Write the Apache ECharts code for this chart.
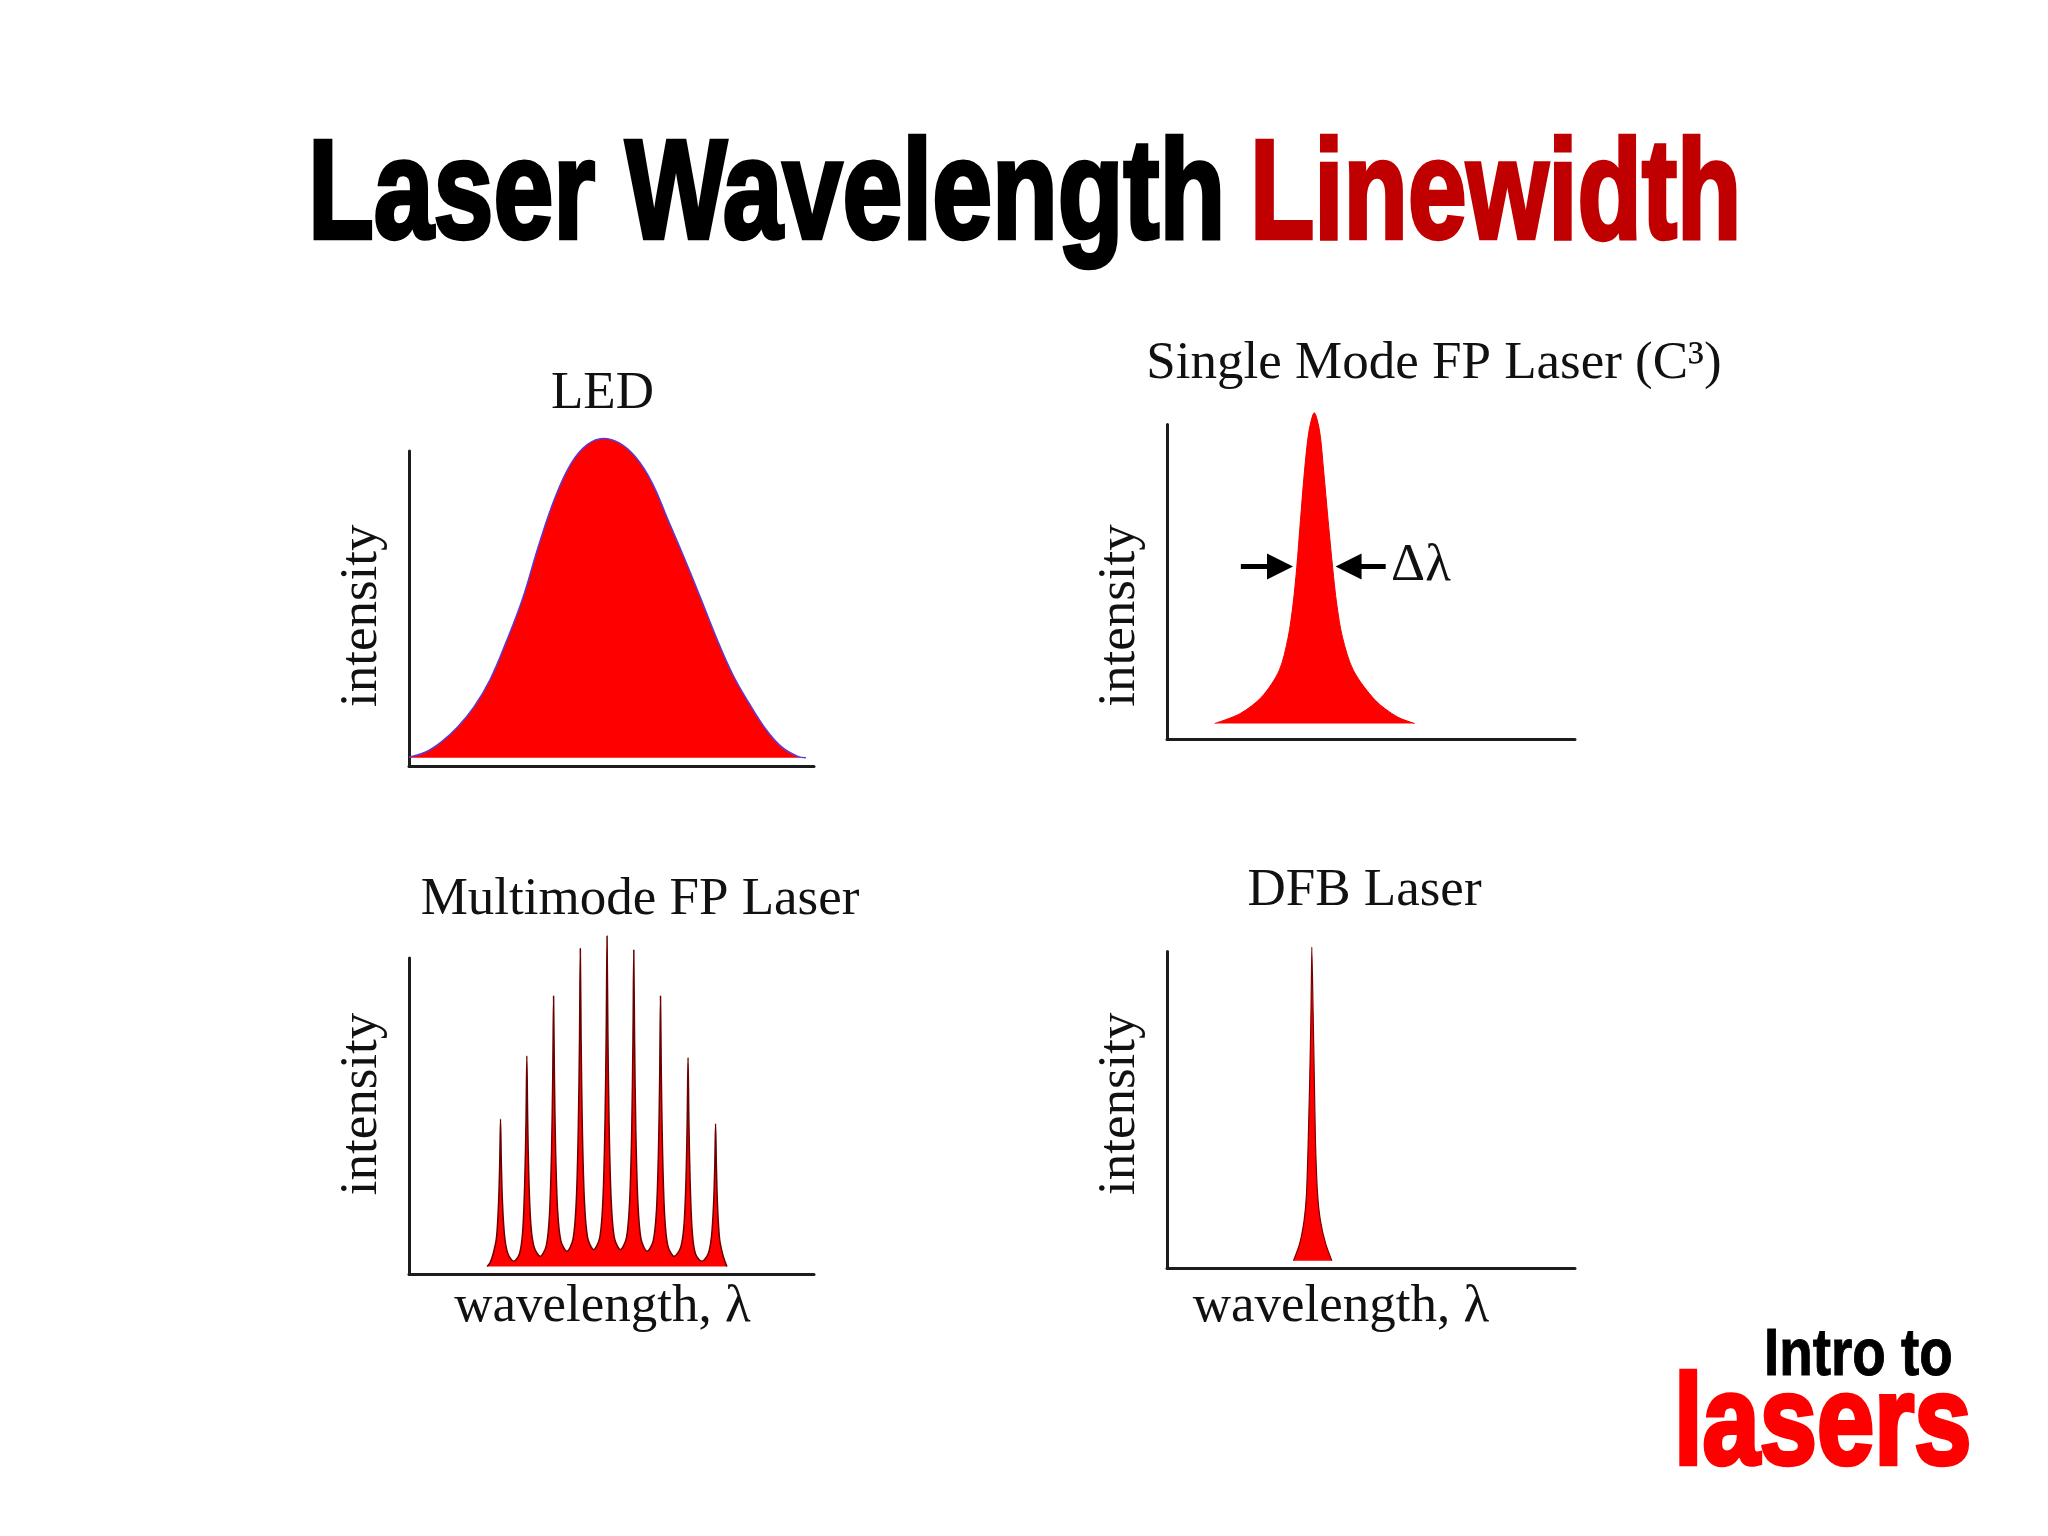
<!DOCTYPE html>
<html>
<head>
<meta charset="utf-8">
<script src="https://cdn.jsdelivr.net/npm/echarts@6/dist/echarts.min.js"></script>
<style>
html,body{margin:0;padding:0;background:#fff;}
#chart{width:2048px;height:1536px;}
</style>
</head>
<body>
<div id="chart"></div>
<script>
// ---------- data (axis units 0..100) ----------
const ledX = [0, 4, 8, 12, 16, 20, 24, 28, 32, 36, 40, 44, 48, 52, 56, 60, 64, 68, 72, 76, 80, 84, 88, 92, 96, 98];
const ledY = [3.0, 4.5, 7.8, 12.5, 18.8, 27.5, 39.5, 53, 70, 85, 96, 102, 104, 102.5, 98, 90, 78, 66, 53.4, 40.5, 29, 20, 12, 6.2, 3.2, 2.8];
const ledBase = 2.8;

const smX = [11.7, 17.9, 23.2, 27.5, 29.7, 30.9, 31.8, 32.7, 33.7, 34.8, 36.1, 37.4, 38.4, 39.5, 40.6, 41.6, 43.0, 45.7, 51.1, 56.4, 60.7];
const smY = [5.1, 8.2, 13.5, 21.9, 32.5, 43.0, 54.6, 69.4, 85.2, 97.9, 103.7, 97.9, 85.2, 69.4, 54.6, 43.0, 32.5, 21.9, 12.4, 7.2, 5.1];
const smBase = 5.1;

const mmX = [19.3, 20.0, 20.8, 21.6, 22.1, 22.4, 22.6, 22.8, 23.1, 23.6, 24.4, 25.85,
  27.3, 28.1, 28.6, 28.9, 29.1, 29.3, 29.6, 30.1, 30.9, 32.4,
  33.9, 34.7, 35.2, 35.5, 35.7, 35.9, 36.2, 36.7, 37.5, 39.0,
  40.5, 41.3, 41.8, 42.1, 42.3, 42.5, 42.8, 43.3, 44.1, 45.6,
  47.1, 47.9, 48.4, 48.7, 48.9, 49.1, 49.4, 49.9, 50.7, 52.2,
  53.7, 54.5, 55.0, 55.3, 55.5, 55.7, 56.0, 56.5, 57.3, 58.8,
  60.3, 61.1, 61.6, 61.9, 62.1, 62.3, 62.6, 63.1, 63.9, 65.5,
  67.1, 67.9, 68.4, 68.7, 68.9, 69.1, 69.4, 69.9, 70.7, 72.3,
  73.9, 74.7, 75.2, 75.5, 75.7, 75.9, 76.2, 76.7, 77.5, 78.0, 78.5];
const mmY = [2.4, 3.5, 6.5, 11.5, 22, 35, 49, 35, 22, 12, 6.5, 4.0,
  6.5, 14, 30, 49, 69, 49, 30, 15.5, 8.5, 5.6,
  9, 19, 39, 63, 88, 63, 39, 20, 10.5, 7.2,
  11, 23, 46, 74, 103, 74, 46, 23.5, 11.5, 7.7,
  11.5, 24, 48, 77, 107, 77, 48, 24, 11.5, 7.7,
  11.5, 23.5, 46, 74, 102.5, 74, 46, 23, 11, 7.2,
  10.5, 20, 39, 63, 88, 63, 39, 19, 9, 5.6,
  8.5, 15.5, 30, 49, 68.5, 49, 30, 14, 6.5, 4.0,
  6.5, 12, 22, 34, 47.5, 34, 21, 11, 6, 4, 2.4];
const mmBase = 2.4;

const dfbX = [31.0, 32.5, 33.6, 34.2, 34.6, 35.0, 35.3, 35.5, 35.8, 36.1, 36.4, 36.9, 37.6, 38.9, 40.4];
const dfbY = [2.3, 7.6, 15.0, 23.5, 39.4, 60.6, 81.8, 101.4, 81.8, 60.6, 39.4, 23.5, 15.0, 7.6, 2.3];
const dfbBase = 2.3;

// arrow line ends are at the centre of the arrowhead (the tip lies half a head further on)
const arrowLeft = [[18.1, 54.9], [27.7, 54.9]];
const arrowRight = [[53.6, 54.9], [44.5, 54.9]];
const deltaLabelAt = [54.8, 55.0];
const deltaLabel = 'Δλ';

const panelTitles = ['LED', 'Single Mode FP Laser (C³)', 'Multimode FP Laser', 'DFB Laser'];
const yAxisName = 'intensity';
const xAxisName = 'wavelength, λ';
const mainTitleBlack = 'Laser Wavelength';
const mainTitleRed = 'Linewidth';
const logoTop = 'Intro to';
const logoBottom = 'lasers';

// ---------- layout ----------
const grids = [
  {left: 409, top: 451, width: 405, height: 315.5},
  {left: 1167, top: 424.5, width: 408, height: 315},
  {left: 409, top: 958, width: 405, height: 316},
  {left: 1167, top: 951.5, width: 408, height: 316.5}
];
const serif = '"Liberation Serif", "Times New Roman", serif';
const sans = '"Liberation Sans", Arial, sans-serif';
const axisLine = {show: true, onZero: false, lineStyle: {color: '#1c1c1c', width: 3}};

const yPads = [[0, 14, 0, 0], [0, 67, 0, 0], [0, 0, 0, 24], [0, 0, 0, 12]];
const xPads = [null, null, [0, 18, 0, 0], [0, 60, 0, 0]];
const xGaps = [7, 7, 7, 13];

const xAxes = grids.map((g, i) => ({
  type: 'value', gridIndex: i, min: 0, max: 100,
  axisLine: axisLine, axisTick: {show: false}, axisLabel: {show: false}, splitLine: {show: false},
  name: i >= 2 ? xAxisName : '', nameLocation: 'middle', nameGap: xGaps[i],
  nameTextStyle: {fontFamily: serif, fontSize: 53, color: '#111', padding: xPads[i] || 0}
}));
const yAxes = grids.map((g, i) => ({
  type: 'value', gridIndex: i, min: 0, max: 100,
  axisLine: axisLine, axisTick: {show: false}, axisLabel: {show: false}, splitLine: {show: false},
  name: yAxisName, nameLocation: 'middle', nameRotate: 90, nameGap: 20,
  nameTextStyle: {fontFamily: serif, fontSize: 53, color: '#111', padding: yPads[i]}
}));

function pairs(xs, ys) { return xs.map((x, k) => [x, ys[k]]); }

const series = [
  {
    type: 'line', xAxisIndex: 0, yAxisIndex: 0, data: pairs(ledX, ledY),
    smooth: 0.4, showSymbol: false, clip: false,
    lineStyle: {color: '#5a3bd6', width: 1.5},
    areaStyle: {color: '#ff0000', opacity: 1, origin: ledBase}
  },
  {
    type: 'line', xAxisIndex: 1, yAxisIndex: 1, data: pairs(smX, smY),
    smooth: 0.3, showSymbol: false, clip: false,
    lineStyle: {color: '#ee0000', width: 1},
    areaStyle: {color: '#ff0000', opacity: 1, origin: smBase},
    markLine: {
      silent: true, animation: false,
      symbol: ['none', 'triangle'], symbolSize: 26,
      label: {show: false},
      lineStyle: {color: '#000', width: 5, type: 'solid'},
      data: [
        [{coord: arrowLeft[0]}, {coord: arrowLeft[1]}],
        [{coord: arrowRight[0]}, {coord: arrowRight[1]}]
      ]
    },
    markPoint: {
      silent: true, animation: false,
      symbol: 'rect', symbolSize: 1, itemStyle: {color: 'rgba(0,0,0,0)'},
      label: {show: true, position: 'right', distance: 0, formatter: deltaLabel,
        color: '#111', fontFamily: serif, fontSize: 53},
      data: [{coord: deltaLabelAt}]
    }
  },
  {
    type: 'line', xAxisIndex: 2, yAxisIndex: 2, data: pairs(mmX, mmY),
    smooth: 0.3, showSymbol: false, clip: false,
    lineStyle: {color: '#6a0000', width: 1.5},
    areaStyle: {color: '#ff0000', opacity: 1, origin: mmBase}
  },
  {
    type: 'line', xAxisIndex: 3, yAxisIndex: 3, data: pairs(dfbX, dfbY),
    smooth: 0.2, showSymbol: false, clip: false,
    lineStyle: {color: '#7a0000', width: 1.2},
    areaStyle: {color: '#ff0000', opacity: 1, origin: dfbBase}
  }
];

const titlePos = [[602.5, 394], [1434, 364], [640, 900], [1364.5, 891]];
const graphic = [
  {type: 'text', x: 308, y: 199, scaleX: 0.828, scaleY: 1.09, silent: true,
    style: {text: mainTitleBlack, font: 'bold 130px ' + sans, fill: '#000', stroke: '#000', lineWidth: 4,
      align: 'left', verticalAlign: 'middle'}},
  {type: 'text', x: 1250, y: 199, scaleX: 0.81, scaleY: 1.09, silent: true,
    style: {text: mainTitleRed, font: 'bold 130px ' + sans, fill: '#c00000', stroke: '#c00000', lineWidth: 4,
      align: 'left', verticalAlign: 'middle'}},
  {type: 'text', x: 1764, y: 1357, scaleX: 0.83, silent: true,
    style: {text: logoTop, font: 'bold 66px ' + sans, fill: '#000', stroke: '#000', lineWidth: 1,
      align: 'left', verticalAlign: 'middle'}},
  {type: 'text', x: 1674, y: 1429, scaleX: 0.935, scaleY: 1.16, silent: true,
    style: {text: logoBottom, font: 'bold 110px ' + sans, fill: '#ff0000', stroke: '#ff0000', lineWidth: 4,
      align: 'left', verticalAlign: 'middle'}}
].concat(panelTitles.map((t, i) => ({
  type: 'text', x: titlePos[i][0], y: titlePos[i][1], silent: true,
  style: {text: t, font: '53px ' + serif, fill: '#111', align: 'center', verticalAlign: 'middle'}
})));

const chart = echarts.init(document.getElementById('chart'), null, {renderer: 'canvas'});
chart.setOption({
  backgroundColor: '#ffffff',
  animation: false,
  grid: grids.map(g => Object.assign({containLabel: false}, g)),
  xAxis: xAxes,
  yAxis: yAxes,
  series: series,
  graphic: graphic
});
</script>
</body>
</html>
